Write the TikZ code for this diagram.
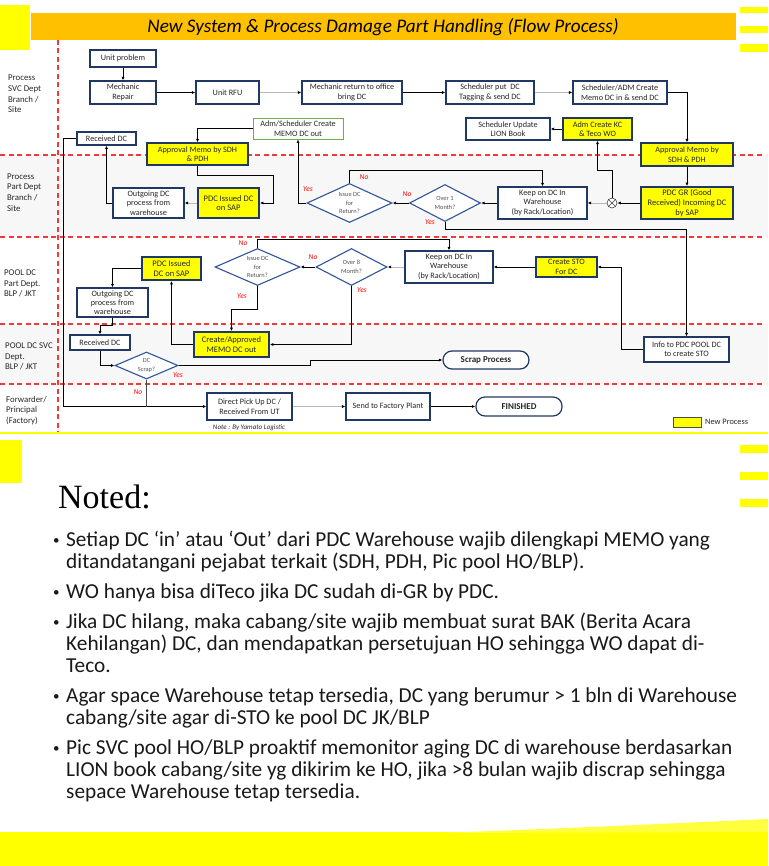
\documentclass[tikz,border=0pt]{standalone}
\usepackage{fontspec}
\setmainfont{Carlito}
\newfontfamily\serifnote{Liberation Serif}
\usetikzlibrary{arrows.meta,shapes.geometric}
\definecolor{navy}{HTML}{1F3864}
\definecolor{dblue}{HTML}{2F5597}
\definecolor{gold}{HTML}{FFC000}
\definecolor{ylw}{HTML}{FFFF00}
\definecolor{grn}{HTML}{70AD47}
\definecolor{lanegray}{HTML}{F7F7F7}
\definecolor{txt}{HTML}{262626}
\definecolor{dashred}{HTML}{F23A3A}
\tikzset{
  box/.style={draw=navy, line width=1.1pt, fill=white, align=center, font=\fontsize{8.2}{9.4}\selectfont, text=txt, inner sep=1pt},
  ybox/.style={box, fill=ylw},
  ybold/.style={ybox, line width=1.7pt, font=\fontsize{8.5}{9.6}\selectfont},
  gbox/.style={box, draw=grn, line width=0.9pt},
  dia/.style={diamond, draw=dblue, line width=1.1pt, fill=white, inner sep=0pt},
  diatext/.style={font=\fontsize{6.4}{8.6}\selectfont, text=gray!65!black, align=center, inner sep=0pt},
  term/.style={draw=navy, line width=1.2pt, rounded corners=9pt, fill=white, font=\bfseries\fontsize{9}{10}\selectfont, text=txt},
  lane/.style={font=\fontsize{8.8}{10.7}\selectfont, align=left, anchor=west, inner sep=0pt, text=txt},
  yn/.style={text=red, font=\itshape\fontsize{7.5}{8}\selectfont, inner sep=0pt},
  con/.style={line width=0.8pt, -{Latex[length=3.5pt,width=3pt]}},
  gcon/.style={line width=0.8pt, draw=gray!55, -{Latex[length=3.5pt,width=3pt,color=black]}},
  sepline/.style={draw=dashred, line width=1.2pt, dash pattern=on 5pt off 3.5pt},
  bul/.style={font=\fontsize{21.3}{22}\selectfont, anchor=base west, inner sep=0pt, text=black!90},
  dot/.style={font=\fontsize{13}{13}\selectfont, anchor=base west, inner sep=0pt, text=black!90}
}
\begin{document}
\begin{tikzpicture}[x=1pt,y=-1pt]
\useasboundingbox (0,0) rectangle (768,866);
% decorations
\fill[ylw] (0,5) rectangle (30,50);
\fill[gold] (31,13) rectangle (736,40);
\fill[ylw] (740,7) rectangle (768,13);
\fill[ylw] (740,26) rectangle (768,33);
\fill[ylw] (740,44) rectangle (768,52);
\node[font=\itshape\fontsize{19.2}{22}\selectfont, text=black] (title) at (383,27) {New System \& Process Damage Part Handling (Flow Process)};
% lane backgrounds
\fill[lanegray] (0,155) rectangle (768,237);
\fill[lanegray] (0,324) rectangle (768,384);
% separators
\draw[sepline] (58,40) -- (58,432);
\draw[sepline] (0,155) -- (762,155);
\draw[sepline] (0,237) -- (762,237);
\draw[sepline] (0,324) -- (762,324);
\draw[sepline] (0,384) -- (762,384);
\draw[ylw, line width=1.5pt] (0,433) -- (768,433);
% lane labels
\node[lane] (l1) at (8,94) {Process\\SVC Dept\\Branch /\\Site};
\node[lane] (l2) at (7,192.5) {Process\\Part Dept\\Branch /\\Site};
\node[lane] (l3) at (4,283.5) {POOL DC\\Part Dept.\\BLP / JKT};
\node[lane] (l4) at (5,356.5) {POOL DC SVC\\Dept.\\BLP / JKT};
\node[lane] (l5) at (6,410.5) {Forwarder/\\Principal\\(Factory)};
% lane 1 nodes
\node[box, minimum width=66pt, minimum height=17pt] (unitprob) at (123,58.5) {Unit problem};
\node[box, minimum width=66pt, minimum height=23pt] (mechrep) at (123,92.5) {Mechanic\\Repair};
\node[box, minimum width=63pt, minimum height=23pt] (unitrfu) at (227.5,92.5) {Unit RFU};
\node[box, minimum width=100pt, minimum height=23pt] (mechret) at (352,92.5) {Mechanic return to office\\bring DC};
\node[box, minimum width=88pt, minimum height=23pt] (schedput) at (490,92.5) {Scheduler put \ DC\\Tagging \& send DC};
\node[box, minimum width=94pt, minimum height=23pt] (schedadm) at (620,92.5) {Scheduler/ADM Create\\Memo DC in \& send DC};
\node[box, minimum width=84pt, minimum height=22pt] (schedupd) at (508,129) {Scheduler Update\\LION Book};
\node[ybox, minimum width=69pt, minimum height=22pt] (admkc) at (597.5,129) {Adm Create KC\\\& Teco WO};
\node[gbox, minimum width=90pt, minimum height=21pt] (admmemo) at (298,128.5) {Adm/Scheduler Create\\MEMO DC out};
\node[box, minimum width=59pt, minimum height=13pt, inner sep=0.5pt] (recv1) at (106.5,138.5) {Received DC};
\node[ybox, minimum width=101pt, minimum height=22pt] (appr1) at (197.5,154) {Approval Memo by SDH\\\& PDH};
\node[ybox, minimum width=92pt, minimum height=23pt] (appr2) at (687,154.5) {Approval Memo by\\SDH \& PDH};
% lane 2 nodes
\node[ybold, minimum width=92pt, minimum height=32pt] (pdcgr) at (687,203) {PDC GR (Good\\Received) Incoming DC\\by SAP};
\node[circle, draw=black!75, line width=0.6pt, fill=white, minimum size=10pt, inner sep=0pt] (junc) at (612,203) {};
\node[box, minimum width=89pt, minimum height=32pt] (keep1) at (542.5,203) {Keep on DC In\\Warehouse\\(by Rack/Location)};
\node[dia, minimum width=71pt, minimum height=37pt, label={[diatext]center:{Over 1\\Month?}}] (over1) at (445,203) {};
\node[dia, minimum width=85pt, minimum height=39pt, label={[diatext]center:{Issue DC\\for\\Return?}}] (issue1) at (349.5,203) {};
\node[ybold, minimum width=61pt, minimum height=30pt] (pdciss1) at (228.5,203) {PDC Issued DC\\on SAP};
\node[box, minimum width=71pt, minimum height=30pt] (outgo1) at (148.5,203) {Outgoing DC\\process from\\warehouse};
% lane 3 nodes
\node[box, minimum width=88pt, minimum height=32pt] (keep2) at (449,267) {Keep on DC In\\Warehouse\\(by Rack/Location)};
\node[ybox, minimum width=61pt, minimum height=20pt] (sto) at (566.5,267) {Create STO\\For DC};
\node[dia, minimum width=71pt, minimum height=37pt, label={[diatext]center:{Over 8\\Month?}}] (over8) at (351.5,267) {};
\node[dia, minimum width=85pt, minimum height=37pt, label={[diatext]center:{Issue DC\\for\\Return?}}] (issue2) at (257.5,267) {};
\node[ybold, minimum width=59pt, minimum height=23pt] (pdciss2) at (171.5,268.5) {PDC Issued\\DC on SAP};
\node[box, minimum width=71pt, minimum height=29pt, font=\fontsize{8.2}{9}\selectfont] (outgo2) at (112.5,302.5) {Outgoing DC\\process from\\warehouse};
% lane 4 nodes
\node[box, minimum width=60pt, minimum height=15pt] (recv2) at (100,342.5) {Received DC};
\node[dia, minimum width=63pt, minimum height=27pt, label={[diatext]center:{DC\\Scrap?}}] (scrapdia) at (146.5,365.5) {};
\node[ybold, minimum width=75pt, minimum height=25pt] (memoout) at (231.5,344.5) {Create/Approved\\MEMO DC out};
\node[term, minimum width=86pt, minimum height=18pt] (scrapproc) at (486,360) {Scrap Process};
\node[box, minimum width=85pt, minimum height=25pt] (info) at (686.5,349.5) {Info to PDC POOL DC\\to create STO};
% lane 5 nodes
\node[box, minimum width=85pt, minimum height=27pt] (direct) at (249.5,406.5) {Direct Pick Up DC /\\Received From UT};
\node[box, minimum width=84pt, minimum height=27pt] (sendfac) at (388,406.5) {Send to Factory Plant};
\node[term, minimum width=86pt, minimum height=19pt] (finished) at (519,406.5) {FINISHED};
\node[font=\itshape\fontsize{7}{8}\selectfont, text=txt] (note) at (249,428) {Note : By Yamato Logistic};
\node[draw=black!70, fill=ylw, minimum width=28pt, minimum height=10pt, inner sep=0pt] (leg) at (687,422) {};
\node[anchor=west, font=\fontsize{8.3}{9}\selectfont, text=txt, inner sep=0pt] (legt) at (705,422) {New Process};
% junction cross
\draw[black!75, line width=0.6pt] (junc.north west) -- (junc.south east) (junc.north east) -- (junc.south west);
% coordinates
\coordinate (j1) at (612,170);
\coordinate (o1) at (445,229);
\coordinate (i1) at (349.5,170);
\coordinate (a1) at (273,175);
\coordinate (r1) at (63,138.5);
\coordinate (i2) at (621,349.5);
\coordinate (i3) at (257.5,239);
\coordinate (i4) at (257.5,309);
\coordinate (g1) at (112.5,325);
\coordinate (s1) at (310,365.5);
\coordinate (s2) at (310,360);
\coordinate (s3) at (146.5,406.5);
% connectors lane 1
\draw[con] (unitprob) -- (mechrep);
\draw[con] (mechrep) -- (unitrfu);
\draw[gcon] (unitrfu) -- (mechret);
\draw[con] (mechret) -- (schedput);
\draw[gcon] (schedput) -- (schedadm);
\draw[con] (schedadm.east) -| (appr2.north);
\draw[con] (appr2) -- (pdcgr);
\draw[con] (pdcgr) -- (junc);
\draw[gcon] (junc) -- (keep1);
\draw[con] (junc.north) -- (j1) -| (admkc.south);
\draw[con] (admkc) -- (schedupd);
\draw[con] (keep1) -- (over1);
\draw[con] (over1) -- (issue1);
\draw[con] (over1.south) -- (o1) -| (info.north);
\draw[con] (issue1.north) -- (i1) -| (keep1.north);
\draw[con] (issue1.west) -| (admmemo.south);
\draw[con] (admmemo.west) -| (appr1.north);
\draw[con] (appr1.south) |- (a1) |- (pdciss1.east);
\draw[gcon] (pdciss1) -- (outgo1);
\draw[con] (outgo1.west) -| (recv1.south);
\draw[con] (recv1.west) -- (r1) |- (direct.west);
\draw[gcon] (direct) -- (sendfac);
\draw[con] (sendfac) -- (finished);
% connectors lane 3/4
\draw[con] (info.west) -- (i2) |- (sto.east);
\draw[con] (sto) -- (keep2);
\draw[gcon] (keep2) -- (over8);
\draw[con] (over8) -- (issue2);
\draw[con] (issue2.north) -- (i3) -| (keep2.north);
\draw[con] (issue2.south) -- (i4) -| (memoout.north);
\draw[con] (over8.south) |- (memoout.east);
\draw[con] (memoout.west) -| (pdciss2.south);
\draw[con] (pdciss2.west) -| (outgo2.north);
\draw[con] (outgo2.south) -- (g1) -| (recv2.north);
\draw[con] (recv2.south) |- (scrapdia.west);
\draw[con] (scrapdia.east) -- (s1) -- (s2) -- (scrapproc.west);
\draw[line width=0.8pt, draw=gray!60!black] (scrapdia.south) -- (s3);
% yes/no labels
\node[yn] (yn1) at (407,194) {No};
\node[yn] (yn2) at (430,222) {Yes};
\node[yn] (yn3) at (364,177) {No};
\node[yn] (yn4) at (308,189) {Yes};
\node[yn] (yn5) at (313,257) {No};
\node[yn] (yn6) at (243,243) {No};
\node[yn] (yn7) at (242,296) {Yes};
\node[yn] (yn8) at (362,290) {Yes};
\node[yn] (yn9) at (178,375) {Yes};
\node[yn] (yn10) at (138,392) {No};
% lower decorations
\fill[ylw] (0,440) rectangle (22,483);
\fill[ylw] (740,445) rectangle (768,453);
\fill[ylw] (740,472) rectangle (768,480);
\fill[ylw] (740,499) rectangle (768,507);
\fill[ylw] (0,832) rectangle (768,866);
\fill[ylw!75] (440,833) .. controls (600,827) and (700,822) .. (768,819) -- (768,832) -- (440,833) -- cycle;
% noted text
\node[font=\serifnote\fontsize{34}{36}\selectfont, anchor=base west, inner sep=0pt] (noted) at (58,508) {Noted:};
\node[dot] (d1) at (53,544) {•};
\node[bul] (b1a) at (66,546) {Setiap DC ‘in’ atau ‘Out’ dari PDC Warehouse wajib dilengkapi MEMO yang};
\node[bul] (b1b) at (66,568) {ditandatangani pejabat terkait (SDH, PDH, Pic pool HO/BLP).};
\node[dot] (d2) at (53,596) {•};
\node[bul] (b2a) at (66,598) {WO hanya bisa diTeco jika DC sudah di-GR by PDC.};
\node[dot] (d3) at (53,626) {•};
\node[bul] (b3a) at (66,628) {Jika DC hilang, maka cabang/site wajib membuat surat BAK (Berita Acara};
\node[bul] (b3b) at (66,650) {Kehilangan) DC, dan mendapatkan persetujuan HO sehingga WO dapat di-};
\node[bul] (b3c) at (66,672) {Teco.};
\node[dot] (d4) at (53,700) {•};
\node[bul] (b4a) at (66,702) {Agar space Warehouse tetap tersedia, DC yang berumur > 1 bln di Warehouse};
\node[bul] (b4b) at (66,724) {cabang/site agar di-STO ke pool DC JK/BLP};
\node[dot] (d5) at (53,752) {•};
\node[bul] (b5a) at (66,754) {Pic SVC pool HO/BLP proaktif memonitor aging DC di warehouse berdasarkan};
\node[bul] (b5b) at (66,776) {LION book cabang/site yg dikirim ke HO, jika >8 bulan wajib discrap sehingga};
\node[bul] (b5c) at (66,798) {sepace Warehouse tetap tersedia.};
\end{tikzpicture}
\end{document}
